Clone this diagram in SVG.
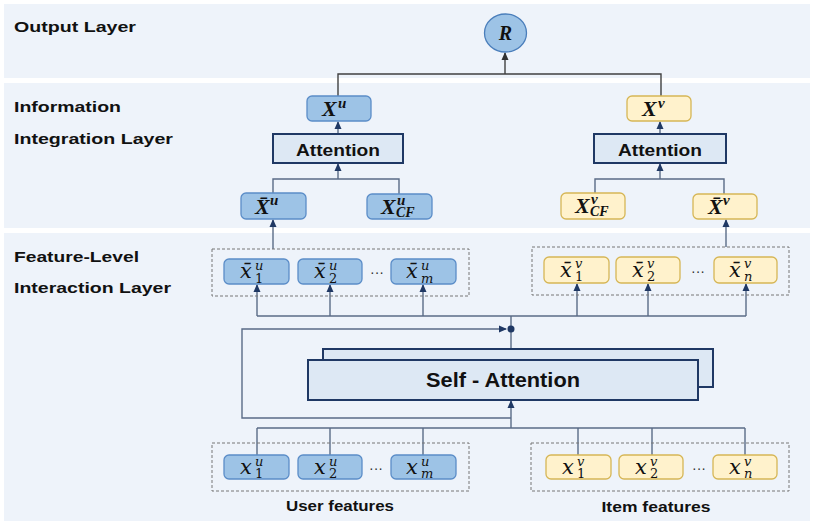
<svg xmlns="http://www.w3.org/2000/svg" width="815" height="526" viewBox="0 0 815 526">
<defs>
<style>
.panel{fill:#eef3fa;stroke:none}
.lbl{font-family:"Liberation Sans",Arial,sans-serif;font-weight:bold;font-size:15px;fill:#111}
.att{fill:#dde8f4;stroke:#1f3864;stroke-width:2}
.attt{font-family:"Liberation Sans",Arial,sans-serif;font-weight:bold;font-size:16.5px;fill:#111;text-anchor:middle}
.bb{fill:#9dc3e6;stroke:#5b8dc8;stroke-width:1.3}
.yb{fill:#fff2cc;stroke:#d6b656;stroke-width:1.3}
.grp{fill:none;stroke:#777;stroke-width:1;stroke-dasharray:3,2}
.m{font-family:"DejaVu Serif","Liberation Serif",serif;font-style:italic;font-size:21px;fill:#111}
.mb{font-family:"Liberation Serif","DejaVu Serif",serif;font-style:italic;font-weight:bold;font-size:22px;fill:#111}
.s{font-size:15px}
.ss{font-size:13px}
.n{font-style:normal}
.cf{font-size:14px}
.dots{font-family:"Liberation Sans",Arial,sans-serif;font-size:14px;fill:#333;text-anchor:middle}
.c{fill:none;stroke:#5a6b86;stroke-width:1.4}
.cd{fill:none;stroke:#404040;stroke-width:1.4}
</style>
<marker id="ah" markerWidth="8" markerHeight="8" refX="7" refY="4" orient="auto" markerUnits="userSpaceOnUse">
<path d="M0,0.5 L8,4 L0,7.5 Z" fill="#1f3864"/>
</marker>
<marker id="ahd" markerWidth="8" markerHeight="8" refX="7" refY="4" orient="auto" markerUnits="userSpaceOnUse">
<path d="M0,0.5 L8,4 L0,7.5 Z" fill="#303030"/>
</marker>
</defs>
<rect width="815" height="526" fill="#ffffff"/>
<g id="panels">
<rect class="panel" x="4" y="4" width="806" height="74"/>
<rect class="panel" x="4" y="83" width="806" height="145"/>
<rect class="panel" x="4" y="233" width="806" height="288"/>
</g>
<g id="layer-labels">
<text class="lbl" x="14" y="32" textLength="122" lengthAdjust="spacingAndGlyphs">Output Layer</text>
<text class="lbl" x="14" y="112" textLength="107" lengthAdjust="spacingAndGlyphs">Information</text>
<text class="lbl" x="14" y="144" textLength="159" lengthAdjust="spacingAndGlyphs">Integration Layer</text>
<text class="lbl" x="14" y="262" textLength="125" lengthAdjust="spacingAndGlyphs">Feature-Level</text>
<text class="lbl" x="14" y="293" textLength="157" lengthAdjust="spacingAndGlyphs">Interaction Layer</text>
</g>
<g id="connectors">
<polyline class="cd" points="338,96 338,74 661,74 661,96"/>
<line class="cd" x1="505" y1="74" x2="505" y2="53" marker-end="url(#ahd)"/>
<line class="c" x1="338" y1="134" x2="338" y2="122" marker-end="url(#ah)"/>
<line class="c" x1="660" y1="134" x2="660" y2="122" marker-end="url(#ah)"/>
<polyline class="c" points="273,193 273,179 399,179 399,194"/>
<line class="c" x1="338" y1="179" x2="338" y2="164" marker-end="url(#ah)"/>
<polyline class="c" points="595,193 595,179 724,179 724,194"/>
<line class="c" x1="660" y1="179" x2="660" y2="164" marker-end="url(#ah)"/>
<line class="c" x1="273" y1="249" x2="273" y2="220" marker-end="url(#ah)"/>
<line class="c" x1="726" y1="247" x2="726" y2="220" marker-end="url(#ah)"/>
<line class="c" x1="257" y1="316" x2="746" y2="316"/>
<line class="c" x1="257" y1="316" x2="257" y2="285" marker-end="url(#ah)"/>
<line class="c" x1="330" y1="316" x2="330" y2="285" marker-end="url(#ah)"/>
<line class="c" x1="423" y1="316" x2="423" y2="285" marker-end="url(#ah)"/>
<line class="c" x1="577" y1="316" x2="577" y2="284" marker-end="url(#ah)"/>
<line class="c" x1="648" y1="316" x2="648" y2="284" marker-end="url(#ah)"/>
<line class="c" x1="746" y1="316" x2="746" y2="284" marker-end="url(#ah)"/>
<line class="c" x1="511" y1="349" x2="511" y2="316"/>
<polyline class="c" points="511,418 242,418 242,329 506,329" marker-end="url(#ah)"/>
<circle cx="511" cy="329" r="3.5" fill="#1f3864"/>
<line class="c" x1="511" y1="428" x2="511" y2="401" marker-end="url(#ah)"/>
<line class="c" x1="257" y1="428" x2="745" y2="428"/>
<line class="c" x1="257" y1="428" x2="257" y2="455"/>
<line class="c" x1="330" y1="428" x2="330" y2="455"/>
<line class="c" x1="423" y1="428" x2="423" y2="455"/>
<line class="c" x1="578" y1="428" x2="578" y2="455"/>
<line class="c" x1="652" y1="428" x2="652" y2="455"/>
<line class="c" x1="745" y1="428" x2="745" y2="455"/>
</g>
<g id="node-R">
<ellipse cx="505.5" cy="33" rx="21" ry="19" fill="#9dc3e6" stroke="#4a7ebb" stroke-width="1.3"/>
<text class="mb" x="505.5" y="40" text-anchor="middle" style="font-size:20px">R</text>
</g>
<g id="node-Xu">
<rect class="bb" x="307" y="96" width="64" height="25" rx="5"/>
<text class="mb" x="322" y="116">X<tspan class="s" x="338" y="108">u</tspan></text>
</g>
<g id="node-Xv">
<rect class="yb" x="627" y="96" width="64" height="25" rx="5"/>
<text class="mb" x="642" y="116">X<tspan class="s" x="658" y="108">v</tspan></text>
</g>
<g id="node-att-u">
<rect class="att" x="273" y="134" width="130" height="29"/>
<text class="attt" x="338" y="156" textLength="84" lengthAdjust="spacingAndGlyphs">Attention</text>
</g>
<g id="node-att-v">
<rect class="att" x="594" y="134" width="132" height="29"/>
<text class="attt" x="660" y="156" textLength="84" lengthAdjust="spacingAndGlyphs">Attention</text>
</g>
<g id="node-Xbar-u">
<rect class="bb" x="241" y="193" width="65" height="26" rx="5"/>
<text class="mb" x="255" y="214">X̄<tspan class="s" x="270" y="205">u</tspan></text>
</g>
<g id="node-XuCF">
<rect class="bb" x="367" y="194" width="65" height="25" rx="5"/>
<text class="mb" x="381" y="214">X<tspan class="s" x="397" y="205">u</tspan><tspan class="cf" x="396" y="217">CF</tspan></text>
</g>
<g id="node-XvCF">
<rect class="yb" x="561" y="193" width="64" height="26" rx="5"/>
<text class="mb" x="575" y="213">X<tspan class="s" x="591" y="204">v</tspan><tspan class="cf" x="590" y="216">CF</tspan></text>
</g>
<g id="node-Xbar-v">
<rect class="yb" x="693" y="194" width="64" height="25" rx="5"/>
<text class="mb" x="708" y="214">X̄<tspan class="s" x="723" y="205">v</tspan></text>
</g>
<g id="group-xbar-u">
<rect class="grp" x="212" y="249" width="257" height="47"/>
<rect class="bb" x="224" y="259" width="65" height="25" rx="5"/>
<text class="m" x="240" y="278">x̄<tspan class="ss" x="255" y="270">u</tspan><tspan class="ss n" x="255" y="283">1</tspan></text>
<rect class="bb" x="298" y="259" width="64" height="25" rx="5"/>
<text class="m" x="314" y="278">x̄<tspan class="ss" x="329" y="270">u</tspan><tspan class="ss n" x="329" y="283">2</tspan></text>
<text class="dots" x="377" y="277">···</text>
<rect class="bb" x="391" y="259" width="65" height="25" rx="5"/>
<text class="m" x="406" y="278">x̄<tspan class="ss" x="421" y="270">u</tspan><tspan class="ss" x="421" y="283">m</tspan></text>
</g>
<g id="group-xbar-v">
<rect class="grp" x="532" y="247" width="257" height="48"/>
<rect class="yb" x="544" y="257" width="65" height="26" rx="5"/>
<text class="m" x="560" y="277">x̄<tspan class="ss" x="575" y="268">v</tspan><tspan class="ss n" x="575" y="281">1</tspan></text>
<rect class="yb" x="616" y="257" width="64" height="26" rx="5"/>
<text class="m" x="632" y="277">x̄<tspan class="ss" x="647" y="268">v</tspan><tspan class="ss n" x="647" y="281">2</tspan></text>
<text class="dots" x="698" y="276">···</text>
<rect class="yb" x="714" y="257" width="63" height="26" rx="5"/>
<text class="m" x="729" y="277">x̄<tspan class="ss" x="744" y="268">v</tspan><tspan class="ss" x="744" y="281">n</tspan></text>
</g>
<g id="node-self-attention">
<rect class="att" x="323" y="349" width="390" height="38"/>
<rect class="att" x="308" y="360" width="390" height="40"/>
<text class="attt" x="503" y="387" style="font-size:19.5px" textLength="154" lengthAdjust="spacingAndGlyphs">Self - Attention</text>
</g>
<g id="group-x-u">
<rect class="grp" x="212" y="443" width="257" height="48"/>
<rect class="bb" x="224" y="455" width="65" height="24" rx="5"/>
<text class="m" x="240" y="474">x<tspan class="ss" x="255" y="466">u</tspan><tspan class="ss n" x="255" y="478">1</tspan></text>
<rect class="bb" x="298" y="455" width="64" height="24" rx="5"/>
<text class="m" x="314" y="474">x<tspan class="ss" x="329" y="466">u</tspan><tspan class="ss n" x="329" y="478">2</tspan></text>
<text class="dots" x="376" y="473">···</text>
<rect class="bb" x="391" y="455" width="65" height="24" rx="5"/>
<text class="m" x="406" y="474">x<tspan class="ss" x="421" y="466">u</tspan><tspan class="ss" x="421" y="478">m</tspan></text>
<text class="lbl" x="340" y="511" text-anchor="middle" textLength="108" lengthAdjust="spacingAndGlyphs">User features</text>
</g>
<g id="group-x-v">
<rect class="grp" x="531" y="443" width="258" height="48"/>
<rect class="yb" x="546" y="455" width="65" height="24" rx="5"/>
<text class="m" x="562" y="474">x<tspan class="ss" x="577" y="466">v</tspan><tspan class="ss n" x="577" y="478">1</tspan></text>
<rect class="yb" x="619" y="455" width="64" height="24" rx="5"/>
<text class="m" x="635" y="474">x<tspan class="ss" x="650" y="466">v</tspan><tspan class="ss n" x="650" y="478">2</tspan></text>
<text class="dots" x="699" y="473">···</text>
<rect class="yb" x="713" y="455" width="64" height="24" rx="5"/>
<text class="m" x="729" y="474">x<tspan class="ss" x="744" y="466">v</tspan><tspan class="ss" x="744" y="478">n</tspan></text>
<text class="lbl" x="656" y="512" text-anchor="middle" textLength="109" lengthAdjust="spacingAndGlyphs">Item features</text>
</g>
</svg>
